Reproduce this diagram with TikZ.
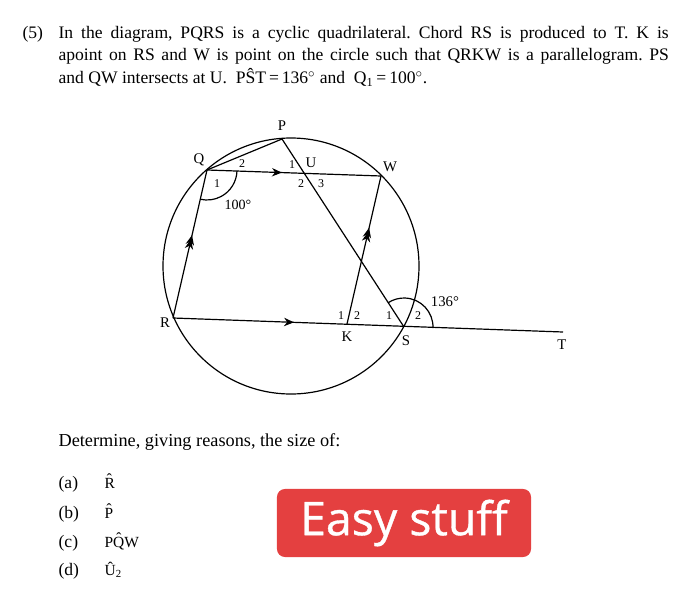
\documentclass[tikz,border=0pt]{standalone}
\usepackage{fontspec}
\setmainfont{Liberation Serif}
\newfontfamily\badgefont{Open Sans}[FakeBold=0.8]
\usetikzlibrary{arrows.meta,decorations.markings}
\definecolor{badgered}{RGB}{228,64,64}
\frenchspacing
\tikzset{
	onearrow/.style={postaction={decorate},decoration={markings,mark=at position #1 with {\arrow{Stealth[length=7pt,width=6pt]}}}},
	twoarrow/.style={postaction={decorate},decoration={markings,mark=at position #1 with {\arrow{Stealth[length=7pt,width=6pt]}\pgftransformxshift{-3pt}\arrow{Stealth[length=7pt,width=6pt]}}}},
	lbl/.style={font=\fontsize{10.5}{12}\selectfont},
	num/.style={font=\fontsize{8.5}{10}\selectfont}
}
\begin{document}
\begin{tikzpicture}[x=0.025cm,y=0.025cm,line width=0.85pt]
		\useasboundingbox (0,0) rectangle (696,-592);
		
		\node (prob) [anchor=base west,inner sep=0,font=\fontsize{12.5}{16.3}\selectfont] at (22,-38) {(5)};
		\node (stem) [anchor=base west,inner sep=0,text width=15.25cm,align=justify,font=\fontsize{12.5}{16.3}\selectfont] at (58,-38) {In the diagram, PQRS is a cyclic quadrilateral. Chord RS is produced to T. K is\linebreak apoint on RS and W is point on the circle such that QRKW is a parallelogram. PS\linebreak and QW intersects at U.\ \ P\^{S}T\,=\,136$^{\circ}$ and\ \ Q\textsubscript{1}\,=\,100$^{\circ}$.};
		
		\coordinate (O) at (291,-266);
		\coordinate (P) at (282,-139);
		\coordinate (Q) at (207,-170);
		\coordinate (W) at (381,-176);
		\coordinate (R) at (173,-318);
		\coordinate (K) at (347,-324);
		\coordinate (S) at (404,-327);
		\coordinate (T) at (563,-332);
		
		\draw (O) circle [radius=128];
		\draw (Q) -- (P) -- (S);
		\draw [onearrow=0.43] (Q) -- (W);
		\draw [onearrow=0.31] (R) -- (T);
		\draw [twoarrow=0.56] (R) -- (Q);
		\draw [twoarrow=0.65] (K) -- (W);
		
		\draw (Q) ++(-2:30) arc [start angle=-2,end angle=-103,radius=30];
		\draw (S) ++(-2:29) arc [start angle=-2,end angle=123,radius=29];
		
		\node (labP) [lbl] at (282,-126) {P};
		\node (labQ) [lbl] at (199,-160) {Q};
		\node (labW) [lbl] at (390,-167) {W};
		\node (labU) [lbl] at (311,-163) {U};
		\node (labR) [lbl] at (165,-323) {R};
		\node (labK) [lbl] at (347,-337) {K};
		\node (labS) [lbl] at (406,-341) {S};
		\node (labT) [lbl] at (562,-345) {T};
		
		\node (q2) [num] at (242,-164) {2};
		\node (q1) [num] at (217,-184) {1};
		\node (u1) [num] at (292,-165) {1};
		\node (u2) [num] at (301,-184) {2};
		\node (u3) [num] at (321,-184) {3};
		\node (k1) [num] at (341,-316) {1};
		\node (k2) [num] at (357,-316) {2};
		\node (s1) [num] at (389,-316) {1};
		\node (s2) [num] at (418,-316) {2};
		\node (angQ) [font=\fontsize{10}{12}\selectfont] at (238,-205) {100°};
		\node (angS) [lbl] at (445,-302) {136°};
		
		\node (ask) [anchor=base west,inner sep=0,font=\fontsize{13}{16}\selectfont] at (58,-446) {Determine, giving reasons, the size of:};
		\node (qa) [anchor=base west,inner sep=0,font=\fontsize{12.5}{15}\selectfont] at (58,-488) {(a)};
		\node (qb) [anchor=base west,inner sep=0,font=\fontsize{12.5}{15}\selectfont] at (58,-518) {(b)};
		\node (qc) [anchor=base west,inner sep=0,font=\fontsize{12.5}{15}\selectfont] at (58,-547) {(c)};
		\node (qd) [anchor=base west,inner sep=0,font=\fontsize{12.5}{15}\selectfont] at (58,-575) {(d)};
		\node (ra) [anchor=base west,inner sep=0,font=\fontsize{11}{14}\selectfont] at (104,-488) {\^{R}};
		\node (rb) [anchor=base west,inner sep=0,font=\fontsize{11}{14}\selectfont] at (104,-518) {\^{P}};
		\node (rc) [anchor=base west,inner sep=0,font=\fontsize{11}{14}\selectfont] at (104,-547) {P\^{Q}W};
		\node (rd) [anchor=base west,inner sep=0,font=\fontsize{11}{14}\selectfont] at (104,-575) {\^{U}\textsubscript{2}};
		
		\node (badge) [fill=badgered,rounded corners=0.2cm,minimum width=6.35cm,minimum height=1.7cm,text=white,font=\badgefont\fontsize{33}{33}\selectfont] at (404,-523) {Easy stuff};
	\end{tikzpicture}
\end{document}
